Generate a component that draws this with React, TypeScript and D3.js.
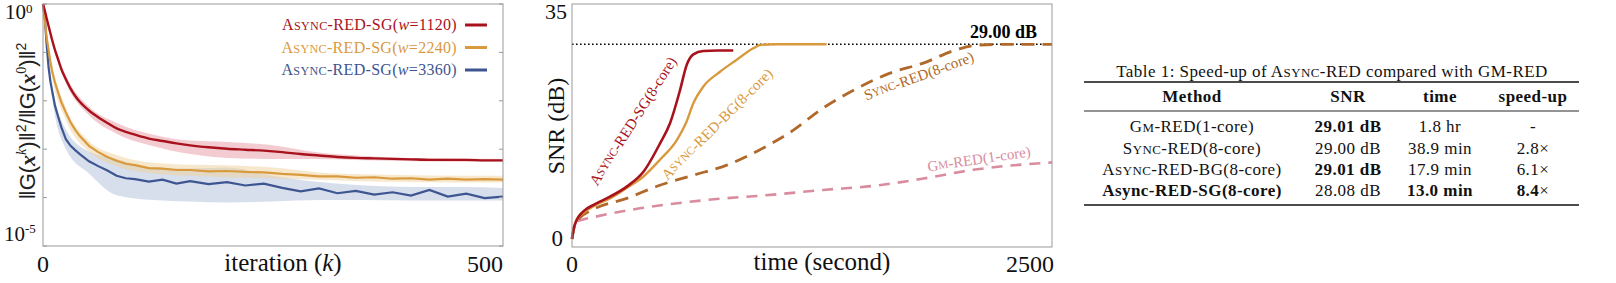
import React from "react";
import * as d3 from "d3";

// ---------- Left chart: normalized gradient (log10 exponents) ----------
const iterK = [0, 2, 4, 6, 8, 10, 13, 16, 20, 25, 30, 35, 40, 50, 60, 70, 80, 90, 100, 115, 130, 145, 160, 180, 200, 220, 240, 260, 280, 300, 320, 340, 360, 380, 400, 420, 440, 460, 480, 500];
const red1120 = [0, -0.14, -0.3, -0.45, -0.6, -0.75, -0.95, -1.12, -1.35, -1.56, -1.75, -1.9, -2.02, -2.2, -2.34, -2.46, -2.57, -2.64, -2.7, -2.78, -2.83, -2.88, -2.92, -2.96, -2.99, -3.01, -3.03, -3.06, -3.1, -3.13, -3.16, -3.18, -3.19, -3.2, -3.21, -3.22, -3.22, -3.22, -3.23, -3.23];
const yel2240 = [0, -0.35, -0.7, -0.95, -1.2, -1.4, -1.62, -1.8, -2.03, -2.25, -2.45, -2.6, -2.73, -2.93, -3.06, -3.16, -3.24, -3.3, -3.33, -3.39, -3.4, -3.43, -3.43, -3.46, -3.45, -3.47, -3.48, -3.51, -3.53, -3.56, -3.56, -3.59, -3.58, -3.61, -3.6, -3.63, -3.61, -3.63, -3.62, -3.63];
const blu3360 = [0, -0.3, -0.85, -1.3, -1.6, -1.8, -2.1, -2.3, -2.55, -2.8, -2.93, -3.02, -3.1, -3.25, -3.35, -3.44, -3.55, -3.6, -3.62, -3.67, -3.63, -3.71, -3.66, -3.72, -3.68, -3.75, -3.71, -3.8, -3.87, -3.81, -3.91, -3.86, -3.94, -3.89, -3.96, -3.84, -3.98, -3.92, -4.01, -3.98];
const bandK = [0, 10, 25, 50, 80, 120, 160, 200, 250, 300, 350, 400, 450, 500];
const redHi = [0, -0.68, -1.48, -2.12, -2.46, -2.7, -2.82, -2.85, -2.92, -3.07, -3.14, -3.18, -3.19, -3.2];
const redLo = [0, -0.82, -1.64, -2.3, -2.68, -2.94, -3.1, -3.18, -3.2, -3.2, -3.23, -3.25, -3.26, -3.26];
const yelHi = [0, -1.25, -2.15, -2.83, -3.12, -3.28, -3.32, -3.33, -3.38, -3.48, -3.52, -3.54, -3.55, -3.55];
const yelLo = [0, -1.5, -2.4, -3.05, -3.35, -3.5, -3.55, -3.58, -3.6, -3.63, -3.66, -3.68, -3.69, -3.69];
const bluHi = [0, -1.65, -2.6, -3.05, -3.2, -3.38, -3.4, -3.38, -3.55, -3.68, -3.75, -3.78, -3.78, -3.8];
const bluLo = [0, -1.95, -3.0, -3.5, -3.95, -4.05, -4.08, -4.1, -4.08, -4.05, -4.05, -4.06, -4.06, -4.06];
const legendW = ["1120", "2240", "3360"];

// ---------- Middle chart: SNR vs time ----------
const sgTime = [0, 8, 24, 59, 120, 198, 285, 372, 458, 510, 563, 597, 632, 684, 760, 840];
const sgSnr = [0, 1.4, 2.8, 4.1, 5.2, 6.3, 7.8, 10.0, 14.2, 17.2, 22.2, 25.9, 27.5, 28.0, 28.08, 28.08];
const bgTime = [0, 8, 24, 59, 120, 198, 285, 372, 458, 545, 597, 632, 684, 771, 858, 944, 979, 1066, 1326];
const bgSnr = [0, 1.4, 2.9, 3.9, 5.0, 6.05, 7.6, 9.3, 11.8, 14.7, 17.5, 20.2, 22.7, 24.9, 26.7, 28.4, 28.9, 29.0, 29.0];
const syncTime = [0, 10, 30, 104, 285, 458, 632, 806, 979, 1153, 1292, 1483, 1656, 1830, 2003, 2090, 2264, 2500];
const syncSnr = [0, 1.6, 2.8, 4.3, 6.05, 8.0, 9.5, 11.0, 13.3, 16.2, 19.2, 22.4, 24.7, 26.2, 28.2, 28.8, 29.0, 29.0];
const gmTime = [0, 8, 21, 59, 120, 354, 701, 1049, 1309, 1569, 1830, 2090, 2500];
const gmSnr = [0, 1.3, 2.5, 2.9, 3.3, 4.56, 5.8, 6.6, 7.3, 7.9, 9.0, 10.3, 11.4];
const targetSnr = 29.0;

// ---------- Table ----------
const tblHeaders = ["Method", "SNR", "time", "speed-up"];
const tblMethods = ["Gm-RED", "Sync-RED", "Async-RED-BG", "Async-RED-SG"];
const tblCores = ["(1-core)", "(8-core)", "(8-core)", "(8-core)"];
const tblSnr = ["29.01 dB", "29.00 dB", "29.01 dB", "28.08 dB"];
const tblTime = ["1.8 hr", "38.9 min", "17.9 min", "13.0 min"];
const tblSpeed = ["-", "2.8", "6.1", "8.4"];

const SERIF = "Liberation Serif, DejaVu Serif, serif";
const SANS = "Liberation Sans, DejaVu Sans, sans-serif";

const C_RED = "#a8121c";
const C_YEL = "#d99a3e";
const C_BLU = "#3d5590";
const C_SYNC = "#b0692b";
const C_GM = "#d98c9e";

function smallCaps(s: string, fs: number) {
  const parts = s.match(/[a-z]+|[^a-z]+/g) || [];
  return parts.map((p, i) =>
    /[a-z]/.test(p[0]) ? (
      <tspan key={i} fontSize={fs * 0.76}>{p.toUpperCase()}</tspan>
    ) : (
      <tspan key={i} fontSize={fs}>{p}</tspan>
    )
  );
}

export default function App() {
  // left scales
  const xL = d3.scaleLinear().domain([0, 500]).range([43, 503]);
  const yL = d3.scaleLog().domain([1, 1e-5]).range([4, 246]);
  const lineL = d3
    .line<[number, number]>()
    .x((d) => xL(d[0]))
    .y((d) => yL(Math.pow(10, d[1])));
  const smoothL = d3
    .line<[number, number]>()
    .x((d) => xL(d[0]))
    .y((d) => yL(Math.pow(10, d[1])))
    .curve(d3.curveMonotoneX);
  const areaL = d3
    .area<[number, number, number]>()
    .x((d) => xL(d[0]))
    .y0((d) => yL(Math.pow(10, d[1])))
    .y1((d) => yL(Math.pow(10, d[2])))
    .curve(d3.curveMonotoneX);
  const zip = (ys: number[]) => iterK.map((k, i) => [k, ys[i]] as [number, number]);
  const band = (lo: number[], hi: number[]) =>
    bandK.map((k, i) => [k, lo[i], hi[i]] as [number, number, number]);
  const decades = d3.range(0, -6, -1).map((e) => Math.pow(10, e));

  // middle scales
  const xM = d3.scaleLinear().domain([0, 2500]).range([572, 1052]);
  const yM = d3.scaleLinear().domain([-1.2, 35]).range([247, 4]);
  const lineM = d3
    .line<[number, number]>()
    .x((d) => xM(d[0]))
    .y((d) => yM(d[1]))
    .curve(d3.curveMonotoneX);
  const pairs = (t: number[], s: number[]) => t.map((v, i) => [v, s[i]] as [number, number]);

  const legendColors = [C_RED, C_YEL, C_BLU];

  const tCols = [1192, 1348, 1440, 1533];
  const rowY = [132, 153.5, 175, 195.5];
  const TF = 17;
  const TLS = 0.45;

  return (
    <div style={{ position: "absolute", left: 0, top: 0 }}>
      <svg width={1616} height={283} style={{ display: "block", background: "#fff" }}>
        {/* ================= LEFT CHART ================= */}
        <g>
          <path d={areaL(band(bluLo, bluHi)) || ""} fill="#b7c3dc" opacity={0.55} />
          <path d={areaL(band(yelLo, yelHi)) || ""} fill="#f0d29c" opacity={0.5} />
          <path d={areaL(band(redLo, redHi)) || ""} fill="#e79aa6" opacity={0.5} />
          <path d={lineL(zip(blu3360)) || ""} fill="none" stroke={C_BLU} strokeWidth={2.2} />
          <path d={lineL(zip(yel2240)) || ""} fill="none" stroke={C_YEL} strokeWidth={2.2} />
          <path d={smoothL(zip(red1120)) || ""} fill="none" stroke={C_RED} strokeWidth={2.4} />
          <rect x={43} y={4} width={460} height={242} fill="none" stroke="#9a9a9a" strokeWidth={1} />
          {decades.map((d, i) => (
            <g key={i}>
              <line x1={43} x2={47} y1={yL(d)} y2={yL(d)} stroke="#9a9a9a" />
              <line x1={499} x2={503} y1={yL(d)} y2={yL(d)} stroke="#9a9a9a" />
            </g>
          ))}
          {/* y tick labels */}
          <text x={5} y={19} fontFamily={SERIF} fontSize={21} fill="#111">
            10<tspan fontSize={13} dy={-6}>0</tspan>
          </text>
          <text x={4} y={241} fontFamily={SERIF} fontSize={21} fill="#111">
            10<tspan fontSize={13} dy={-8}>-5</tspan>
          </text>
          {/* x ticks */}
          <text x={xL(0)} y={272} fontFamily={SERIF} fontSize={24} textAnchor="middle" fill="#111">0</text>
          <text x={xL(500)} y={272} fontFamily={SERIF} fontSize={24} textAnchor="end" fill="#111">500</text>
          <text x={283} y={271} fontFamily={SERIF} fontSize={25} textAnchor="middle" fill="#111">
            iteration (<tspan fontStyle="italic">k</tspan>)
          </text>
          {/* y label */}
          <text
            transform="translate(35,121) rotate(-90)"
            fontFamily={SANS}
            fontSize={22}
            textAnchor="middle"
            fill="#222"
          >
            ‖G(<tspan fontFamily={SERIF} fontWeight="bold" fontStyle="italic">x</tspan>
            <tspan fontFamily={SERIF} fontStyle="italic" fontSize={14} dy={-9}>k</tspan>
            <tspan dy={9}>)‖</tspan>
            <tspan fontSize={14} dy={-9}>2</tspan>
            <tspan dy={9}>/‖G(</tspan>
            <tspan fontFamily={SERIF} fontWeight="bold" fontStyle="italic">x</tspan>
            <tspan fontFamily={SERIF} fontSize={14} dy={-9}>0</tspan>
            <tspan dy={9}>)‖</tspan>
            <tspan fontSize={14} dy={-9}>2</tspan>
          </text>
          {/* legend */}
          {legendW.map((w, i) => (
            <g key={w}>
              <text x={457} y={30 + i * 22.5} fontFamily={SERIF} fontSize={16} letterSpacing={0.3} textAnchor="end" fill={legendColors[i]}>
                {smallCaps("Async-RED-SG", 16)}
                <tspan>(</tspan>
                <tspan fontStyle="italic">w</tspan>
                <tspan>={w})</tspan>
              </text>
              <line x1={465} x2={487} y1={25 + i * 22.5} y2={25 + i * 22.5} stroke={legendColors[i]} strokeWidth={3} />
            </g>
          ))}
        </g>

        {/* ================= MIDDLE CHART ================= */}
        <g>
          <line x1={xM(0)} x2={xM(2500)} y1={yM(targetSnr)} y2={yM(targetSnr)} stroke="#000" strokeWidth={1.6} strokeDasharray="1.6,2.4" />
          <path d={lineM(pairs(gmTime, gmSnr)) || ""} fill="none" stroke={C_GM} strokeWidth={2.6} strokeDasharray="11,8" />
          <path d={lineM(pairs(syncTime, syncSnr)) || ""} fill="none" stroke={C_SYNC} strokeWidth={2.8} strokeDasharray="13,8" />
          <path d={lineM(pairs(bgTime, bgSnr)) || ""} fill="none" stroke={C_YEL} strokeWidth={2.4} />
          <path d={lineM(pairs(sgTime, sgSnr)) || ""} fill="none" stroke={C_RED} strokeWidth={2.6} />
          <rect x={572} y={4} width={480} height={243} fill="none" stroke="#9a9a9a" strokeWidth={1} />
          <text x={1037} y={38} fontFamily={SERIF} fontSize={18} fontWeight="bold" textAnchor="end" fill="#000">
            {targetSnr.toFixed(2)} dB
          </text>
          <text x={567} y={19} fontFamily={SERIF} fontSize={22} textAnchor="end" fill="#111">35</text>
          <text x={563} y={246} fontFamily={SERIF} fontSize={23} textAnchor="end" fill="#111">0</text>
          <text x={xM(0)} y={272} fontFamily={SERIF} fontSize={24} textAnchor="middle" fill="#111">0</text>
          <text x={xM(2500) + 2} y={272} fontFamily={SERIF} fontSize={24} textAnchor="end" fill="#111">2500</text>
          <text x={822} y={270} fontFamily={SERIF} fontSize={25} textAnchor="middle" fill="#111">time (second)</text>
          <text transform="translate(564,126) rotate(-90)" fontFamily={SERIF} fontSize={24} textAnchor="middle" fill="#111">SNR (dB)</text>
          {/* curve annotations */}
          <text transform="translate(633,121) rotate(-57.5)" fontFamily={SERIF} fontSize={15} textAnchor="middle" dominantBaseline="central" fill={C_RED}>
            {smallCaps("Async-RED-SG", 15)}(8-core)
          </text>
          <text transform="translate(717,124) rotate(-45)" fontFamily={SERIF} fontSize={15} textAnchor="middle" dominantBaseline="central" fill={C_YEL}>
            {smallCaps("Async-RED-BG", 15)}(8-core)
          </text>
          <text transform="translate(919,76) rotate(-20)" fontFamily={SERIF} fontSize={15} textAnchor="middle" dominantBaseline="central" fill={C_SYNC}>
            {smallCaps("Sync-RED", 15)}(8-core)
          </text>
          <text transform="translate(979,159) rotate(-8.6)" fontFamily={SERIF} fontSize={15} textAnchor="middle" dominantBaseline="central" fill={C_GM}>
            {smallCaps("Gm-RED", 15)}(1-core)
          </text>
        </g>

        {/* ================= TABLE ================= */}
        <g>
          <text x={1332} y={77} fontFamily={SERIF} fontSize={TF} letterSpacing={TLS} textAnchor="middle" fill="#111">
            Table 1: Speed-up of {smallCaps("Async-RED", TF)} compared with GM-RED
          </text>
          <line x1={1084} x2={1579} y1={82} y2={82} stroke="#111" strokeWidth={1.4} />
          <line x1={1084} x2={1579} y1={111} y2={111} stroke="#111" strokeWidth={0.9} />
          <line x1={1084} x2={1579} y1={205} y2={205} stroke="#111" strokeWidth={1.4} />
          {tblHeaders.map((h, i) => (
            <text key={h} x={tCols[i]} y={102} fontFamily={SERIF} fontSize={TF} letterSpacing={TLS} fontWeight="bold" textAnchor="middle" fill="#111">{h}</text>
          ))}
          {tblMethods.map((m, r) => (
            <g key={m}>
              <text x={tCols[0]} y={rowY[r]} fontFamily={SERIF} fontSize={TF} letterSpacing={TLS} textAnchor="middle" fontWeight={r === 3 ? "bold" : "normal"} fill="#111">
                {r === 3 ? m : smallCaps(m, TF)}
                {tblCores[r]}
              </text>
              <text x={tCols[1]} y={rowY[r]} fontFamily={SERIF} fontSize={TF} letterSpacing={TLS} textAnchor="middle" fontWeight={r === 0 || r === 2 ? "bold" : "normal"} fill="#111">
                {tblSnr[r]}
              </text>
              <text x={tCols[2]} y={rowY[r]} fontFamily={SERIF} fontSize={TF} letterSpacing={TLS} textAnchor="middle" fontWeight={r === 3 ? "bold" : "normal"} fill="#111">
                {tblTime[r]}
              </text>
              <text x={tCols[3]} y={rowY[r]} fontFamily={SERIF} fontSize={TF} letterSpacing={TLS} textAnchor="middle" fill="#111">
                <tspan fontWeight={r === 3 ? "bold" : "normal"}>{tblSpeed[r]}</tspan>
                {r > 0 ? "×" : ""}
              </text>
            </g>
          ))}
        </g>
      </svg>
    </div>
  );
}
